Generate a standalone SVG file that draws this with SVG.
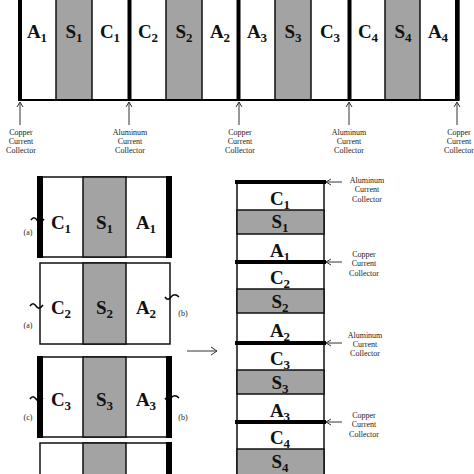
<svg xmlns="http://www.w3.org/2000/svg" width="474" height="474" viewBox="0 0 474 474">
<style>
.w{fill:#fff;stroke:#111;stroke-width:1.5}
.g{fill:#a3a3a3;stroke:#111;stroke-width:1.5}
.bar{fill:#000}
.ln{stroke:#111;stroke-width:1.5;fill:none}
.tk{stroke:#000;stroke-width:4;fill:none}
.big{font-family:"Liberation Serif",serif;font-weight:bold;font-size:19px;fill:#111;text-anchor:middle}
.sub{font-size:13px}
.sm{font-family:"Liberation Serif",serif;font-size:8px;fill:#222;text-anchor:middle}
.ar{stroke:#333;stroke-width:1;fill:none}
.sq{stroke:#000;stroke-width:1.5;fill:none}
</style>
<g id="top-strip">
<rect class="w" x="20" y="-2" width="439" height="102"/>
<rect class="g" x="56" y="-2" width="36" height="102"/>
<rect class="g" x="166" y="-2" width="36" height="102"/>
<rect class="g" x="275" y="-2" width="36" height="102"/>
<rect class="g" x="385" y="-2" width="35" height="102"/>
<line class="ln" x1="238" y1="-2" x2="238" y2="100"/>
<rect class="bar" x="18" y="0" width="4" height="101"/>
<rect class="bar" x="127.5" y="0" width="4" height="101"/>
<rect class="bar" x="236.5" y="0" width="4" height="101"/>
<rect class="bar" x="347.5" y="0" width="4" height="101"/>
<rect class="bar" x="455" y="0" width="4" height="101"/>
<line x1="18" y1="100" x2="459" y2="100" stroke="#000" stroke-width="2"/>
<text class="big" x="37" y="38">A<tspan class="sub" dy="4">1</tspan></text>
<text class="big" x="74" y="38">S<tspan class="sub" dy="4">1</tspan></text>
<text class="big" x="110" y="38">C<tspan class="sub" dy="4">1</tspan></text>
<text class="big" x="148" y="38">C<tspan class="sub" dy="4">2</tspan></text>
<text class="big" x="184" y="38">S<tspan class="sub" dy="4">2</tspan></text>
<text class="big" x="220" y="38">A<tspan class="sub" dy="4">2</tspan></text>
<text class="big" x="257" y="38">A<tspan class="sub" dy="4">3</tspan></text>
<text class="big" x="293" y="38">S<tspan class="sub" dy="4">3</tspan></text>
<text class="big" x="330" y="38">C<tspan class="sub" dy="4">3</tspan></text>
<text class="big" x="368" y="38">C<tspan class="sub" dy="4">4</tspan></text>
<text class="big" x="403" y="38">S<tspan class="sub" dy="4">4</tspan></text>
<text class="big" x="438" y="38">A<tspan class="sub" dy="4">4</tspan></text>
</g>
<g id="top-labels">
<text class="sm" x="21" y="135">Copper</text><text class="sm" x="21" y="144">Current</text><text class="sm" x="21" y="153">Collector</text>
<text class="sm" x="130" y="135">Aluminum</text><text class="sm" x="130" y="144">Current</text><text class="sm" x="130" y="153">Collector</text>
<text class="sm" x="240" y="135">Copper</text><text class="sm" x="240" y="144">Current</text><text class="sm" x="240" y="153">Collector</text>
<text class="sm" x="349" y="135">Aluminum</text><text class="sm" x="349" y="144">Current</text><text class="sm" x="349" y="153">Collector</text>
<text class="sm" x="459" y="135">Copper</text><text class="sm" x="459" y="144">Current</text><text class="sm" x="459" y="153">Collector</text>
</g>
<g id="block1">
<rect class="w" x="40" y="177" width="129" height="80"/>
<rect class="g" x="83" y="177" width="43" height="80"/>
<rect class="bar" x="37" y="176" width="6" height="82"/>
<rect class="bar" x="166" y="176" width="6" height="82"/>
<text class="big" x="61" y="229">C<tspan class="sub" dy="4">1</tspan></text>
<text class="big" x="104.5" y="229">S<tspan class="sub" dy="4">1</tspan></text>
<text class="big" x="146" y="229">A<tspan class="sub" dy="4">1</tspan></text>
<path class="sq" d="M31,220 c2,-3 4,-3 6,0 s4,3 7,-1"/>
<text class="sm" x="28" y="235">(a)</text>
</g>
<g id="block2">
<rect class="w" x="40" y="263" width="130" height="81"/>
<rect class="g" x="83" y="263" width="43" height="81"/>
<text class="big" x="61" y="314">C<tspan class="sub" dy="4">2</tspan></text>
<text class="big" x="104.5" y="314">S<tspan class="sub" dy="4">2</tspan></text>
<text class="big" x="146" y="314">A<tspan class="sub" dy="4">2</tspan></text>
<path class="sq" d="M30,306 c2,-3 4,-3 6,0 s4,3 7,-1"/>
<text class="sm" x="28" y="328">(a)</text>
<path class="sq" d="M165,297 c2,3 4,3 6,0 s5,-3 8,0"/>
<text class="sm" x="183" y="316">(b)</text>
</g>
<g id="block3">
<rect class="w" x="40" y="357" width="129" height="80"/>
<rect class="g" x="83" y="357" width="43" height="80"/>
<rect class="bar" x="37" y="356" width="6" height="82"/>
<rect class="bar" x="166" y="356" width="6" height="82"/>
<text class="big" x="61" y="406">C<tspan class="sub" dy="4">3</tspan></text>
<text class="big" x="104.5" y="406">S<tspan class="sub" dy="4">3</tspan></text>
<text class="big" x="146" y="406">A<tspan class="sub" dy="4">3</tspan></text>
<path class="sq" d="M30,399 c2,-3 4,-3 6,0 s4,3 7,-1"/>
<text class="sm" x="28" y="420">(c)</text>
<path class="sq" d="M165,398 c2,3 4,3 6,0 s5,-3 8,0"/>
<text class="sm" x="183" y="420">(b)</text>
</g>
<g id="block4">
<rect class="w" x="40" y="443" width="129" height="40"/>
<rect class="g" x="83" y="443" width="43" height="40"/>
<rect class="bar" x="166" y="442" width="6" height="40"/>
</g>
<g id="stack">
<rect class="w" x="237" y="182" width="87" height="300"/>
<rect class="g" x="237" y="210" width="87" height="24"/>
<rect class="g" x="237" y="289" width="87" height="24"/>
<rect class="g" x="237" y="370" width="87" height="24"/>
<rect class="g" x="237" y="449" width="87" height="40"/>
<line class="tk" x1="235" y1="182" x2="326" y2="182"/>
<line class="tk" x1="235" y1="262" x2="326" y2="262"/>
<line class="tk" x1="235" y1="343" x2="326" y2="343"/>
<line class="tk" x1="235" y1="422" x2="326" y2="422"/>
<text class="big" x="280" y="205">C<tspan class="sub" dy="4">1</tspan></text>
<text class="big" x="280" y="228">S<tspan class="sub" dy="4">1</tspan></text>
<text class="big" x="280" y="257">A<tspan class="sub" dy="4">1</tspan></text>
<text class="big" x="280" y="284">C<tspan class="sub" dy="4">2</tspan></text>
<text class="big" x="280" y="308">S<tspan class="sub" dy="4">2</tspan></text>
<text class="big" x="280" y="337">A<tspan class="sub" dy="4">2</tspan></text>
<text class="big" x="280" y="365">C<tspan class="sub" dy="4">3</tspan></text>
<text class="big" x="280" y="389">S<tspan class="sub" dy="4">3</tspan></text>
<text class="big" x="280" y="417">A<tspan class="sub" dy="4">3</tspan></text>
<text class="big" x="280" y="444">C<tspan class="sub" dy="4">4</tspan></text>
<text class="big" x="280" y="468">S<tspan class="sub" dy="4">4</tspan></text>
</g>
<g id="stack-labels">
<text class="sm" x="367" y="183">Aluminum</text><text class="sm" x="367" y="192">Current</text><text class="sm" x="367" y="202">Collector</text>
<text class="sm" x="364" y="257">Copper</text><text class="sm" x="364" y="266">Current</text><text class="sm" x="364" y="276">Collector</text>
<text class="sm" x="365" y="338">Aluminum</text><text class="sm" x="365" y="347">Current</text><text class="sm" x="365" y="356">Collector</text>
<text class="sm" x="364" y="418">Copper</text><text class="sm" x="364" y="427">Current</text><text class="sm" x="364" y="437">Collector</text>
</g>
<g id="connectors">
<path class="ar" d="M20,125 V102 M17,107 L20,102 L23,107"/>
<path class="ar" d="M129,125 V102 M126,107 L129,102 L132,107"/>
<path class="ar" d="M239,125 V102 M236,107 L239,102 L242,107"/>
<path class="ar" d="M349,125 V102 M346,107 L349,102 L352,107"/>
<path class="ar" d="M457,125 V102 M454,107 L457,102 L460,107"/>
<path class="ar" d="M342,182 H326 M331,179 L326,182 L331,185"/>
<path class="ar" d="M342,262 H326 M331,259 L326,262 L331,265"/>
<path class="ar" d="M342,343 H326 M331,340 L326,343 L331,346"/>
<path class="ar" d="M342,422 H326 M331,419 L326,422 L331,425"/>
<path class="ar" d="M187,351 H217 M211,347 L217,351 L211,355" stroke="#111" stroke-width="1.3"/>
</g>
</svg>
